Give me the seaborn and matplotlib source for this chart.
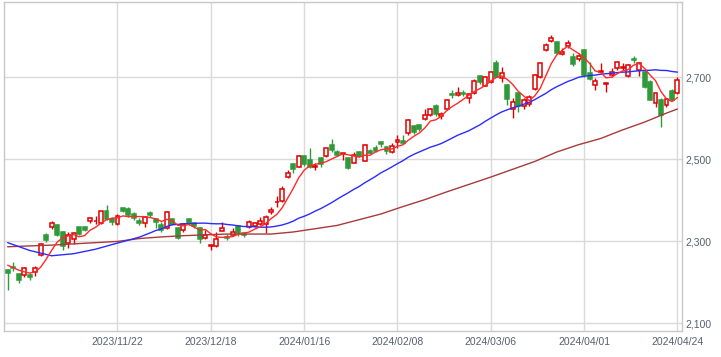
import numpy as np
import pandas as pd
import seaborn as sns
import matplotlib
matplotlib.use("Agg")
import matplotlib.pyplot as plt
from matplotlib.patches import Rectangle

# daily candles (trading-day index 0..122)
opens = [2229, 2237, 2219, 2216, 2216, 2224, 2266, 2315, 2333, 2339,
         2322, 2294, 2304, 2333, 2335, 2350, 2349, 2343, 2373, 2354,
         2341, 2380, 2378, 2367, 2349, 2343, 2369, 2354, 2339, 2331,
         2354, 2331, 2326, 2354, 2343, 2331, 2307, 2288, 2288, 2324,
         2311, 2315, 2337, 2319, 2333, 2337, 2342, 2342, 2370, 2394,
         2398, 2455, 2488, 2481, 2507, 2498, 2480, 2502, 2508, 2534,
         2516, 2512, 2503, 2491, 2518, 2496, 2520, 2528, 2542, 2529,
         2518, 2541, 2545, 2563, 2580, 2583, 2597, 2607, 2629, 2606,
         2621, 2658, 2656, 2662, 2648, 2660, 2702, 2679, 2689, 2734,
         2698, 2681, 2622, 2660, 2629, 2634, 2670, 2699, 2766, 2789,
         2786, 2755, 2776, 2748, 2743, 2766, 2711, 2681, 2713, 2683,
         2705, 2721, 2723, 2702, 2744, 2717, 2713, 2689, 2636, 2644,
         2632, 2666, 2660]
highs = [2232, 2249, 2223, 2237, 2221, 2240, 2294, 2320, 2349, 2341,
         2325, 2321, 2322, 2335, 2337, 2359, 2362, 2374, 2387, 2358,
         2366, 2382, 2384, 2371, 2357, 2362, 2373, 2356, 2347, 2373,
         2356, 2335, 2345, 2356, 2345, 2335, 2327, 2291, 2321, 2346,
         2316, 2331, 2339, 2323, 2351, 2347, 2359, 2363, 2382, 2410,
         2433, 2472, 2491, 2511, 2511, 2526, 2491, 2504, 2528, 2549,
         2522, 2515, 2505, 2518, 2520, 2537, 2525, 2534, 2545, 2532,
         2539, 2558, 2558, 2597, 2583, 2586, 2621, 2624, 2634, 2615,
         2646, 2668, 2675, 2668, 2662, 2694, 2705, 2703, 2715, 2741,
         2724, 2683, 2648, 2664, 2649, 2656, 2707, 2735, 2782, 2802,
         2789, 2770, 2790, 2758, 2758, 2768, 2737, 2698, 2733, 2686,
         2723, 2739, 2733, 2731, 2751, 2737, 2717, 2693, 2661, 2648,
         2648, 2670, 2700]
lows = [2180, 2228, 2198, 2212, 2205, 2215, 2264, 2297, 2329, 2313,
        2278, 2282, 2293, 2315, 2325, 2345, 2341, 2342, 2351, 2339,
        2338, 2370, 2359, 2351, 2339, 2335, 2359, 2331, 2322, 2329,
        2339, 2304, 2323, 2339, 2332, 2294, 2305, 2278, 2286, 2324,
        2302, 2314, 2312, 2311, 2331, 2333, 2339, 2319, 2366, 2384,
        2396, 2453, 2466, 2480, 2484, 2477, 2473, 2481, 2506, 2518,
        2507, 2498, 2476, 2490, 2504, 2495, 2512, 2518, 2530, 2512,
        2515, 2527, 2536, 2559, 2561, 2568, 2595, 2606, 2606, 2597,
        2619, 2650, 2654, 2654, 2636, 2658, 2684, 2677, 2685, 2699,
        2689, 2632, 2599, 2615, 2622, 2630, 2668, 2697, 2764, 2786,
        2759, 2753, 2772, 2727, 2740, 2701, 2693, 2668, 2711, 2664,
        2701, 2718, 2717, 2700, 2733, 2703, 2674, 2644, 2628, 2579,
        2626, 2641, 2658]
closes = [2223, 2233, 2205, 2235, 2213, 2235, 2292, 2302, 2343, 2314,
          2288, 2315, 2319, 2316, 2327, 2355, 2350, 2372, 2354, 2347,
          2361, 2372, 2363, 2357, 2345, 2358, 2363, 2346, 2327, 2370,
          2341, 2307, 2341, 2343, 2337, 2304, 2315, 2290, 2304, 2331,
          2308, 2321, 2319, 2315, 2347, 2343, 2349, 2359, 2376, 2396,
          2426, 2465, 2476, 2507, 2489, 2480, 2483, 2489, 2526, 2522,
          2511, 2514, 2479, 2511, 2508, 2534, 2514, 2520, 2537, 2520,
          2532, 2546, 2538, 2595, 2567, 2573, 2607, 2621, 2611, 2610,
          2644, 2655, 2662, 2658, 2658, 2691, 2689, 2701, 2713, 2701,
          2709, 2646, 2640, 2629, 2644, 2652, 2705, 2733, 2778, 2794,
          2759, 2762, 2782, 2732, 2752, 2705, 2695, 2690, 2715, 2685,
          2713, 2736, 2725, 2729, 2741, 2735, 2676, 2644, 2660, 2607,
          2646, 2644, 2693]

# moving averages where the window reaches back before the chart
ma5_head = [2241, 2235, 2229, 2225]
ma25_head_idx = [0, 4, 8, 12, 16, 20]
ma25_head = [2296, 2277, 2264, 2269, 2280, 2295]
ma75_idx = [0, 4, 8, 12, 16, 20, 24, 28, 32, 36, 40, 44, 48, 52, 56, 60,
            64, 68, 72, 76, 80, 84, 88, 92, 96, 100, 104, 108, 112, 116, 120, 122]
ma75 = [2286, 2288, 2290, 2293, 2296, 2299, 2306, 2310, 2313, 2315, 2317,
        2317, 2317, 2322, 2330, 2338, 2352, 2366, 2384, 2401, 2420, 2438,
        2456, 2475, 2494, 2517, 2535, 2550, 2571, 2590, 2612, 2622]

tick_pos = [20, 37, 54, 71, 88, 105, 122]
tick_labels = ["2023/11/22", "2023/12/18", "2024/01/16", "2024/02/08",
               "2024/03/06", "2024/04/01", "2024/04/24"]
y_ticks = [2100, 2300, 2500, 2700]

UP = "#e00000"
DOWN = "#2f9a3a"
TXT = "#56606c"

df = pd.DataFrame({"day": np.arange(len(closes)), "open": opens, "high": highs,
                   "low": lows, "close": closes})

ma5 = df["close"].rolling(5).mean()
ma5.iloc[:4] = ma5_head
df5 = pd.DataFrame({"day": df["day"], "ma": ma5})

ma25 = df["close"].rolling(25).mean()
df25 = pd.concat([pd.DataFrame({"day": ma25_head_idx, "ma": ma25_head}),
                  pd.DataFrame({"day": df["day"][24:], "ma": ma25[24:]})])
df75 = pd.DataFrame({"day": ma75_idx, "ma": ma75})

sns.set_style("white")
plt.rcParams["font.family"] = ["Liberation Sans", "DejaVu Sans"]

fig = plt.figure(figsize=(7.21, 3.57), dpi=100)
ax = fig.add_axes([4 / 721, 26 / 357, 677.7 / 721, 329 / 357])

w = 0.72
for r in df.itertuples():
    up = r.close >= r.open
    col = UP if up else DOWN
    ax.vlines(r.day, r.low, r.high, color=col, lw=1.0, zorder=2)
    lo = min(r.open, r.close)
    h = max(abs(r.close - r.open), 1.0)
    ax.add_patch(Rectangle((r.day - w / 2, lo), w, h,
                           facecolor="white" if up else DOWN,
                           edgecolor=col, lw=1.1, zorder=3))

sns.lineplot(data=df75, x="day", y="ma", color="#a83a3a", lw=1.0, ax=ax, zorder=4)
sns.lineplot(data=df25, x="day", y="ma", color="#2b2bff", lw=1.0, ax=ax, zorder=4)
sns.lineplot(data=df5, x="day", y="ma", color="#ff2a2a", lw=1.0, ax=ax, zorder=5)

ax.set_xlim(-0.67, 122.77)
ax.set_ylim(2080.5, 2883)
ax.set_xticks(tick_pos)
ax.set_xticklabels(tick_labels)
ax.set_yticks(y_ticks)
ax.set_yticklabels([f"{v:,}" for v in y_ticks])
ax.yaxis.tick_right()
ax.tick_params(axis="both", length=0, labelsize=7.5, labelcolor=TXT)
ax.tick_params(axis="y", pad=3)
ax.tick_params(axis="x", pad=4)
ax.set_xlabel("")
ax.set_ylabel("")
ax.grid(True, color="#dadada", lw=1.0)
ax.set_axisbelow(True)
for s in ax.spines.values():
    s.set_color("#c8c8c8")
    s.set_linewidth(1.0)

plt.savefig("out.png", dpi=100)
